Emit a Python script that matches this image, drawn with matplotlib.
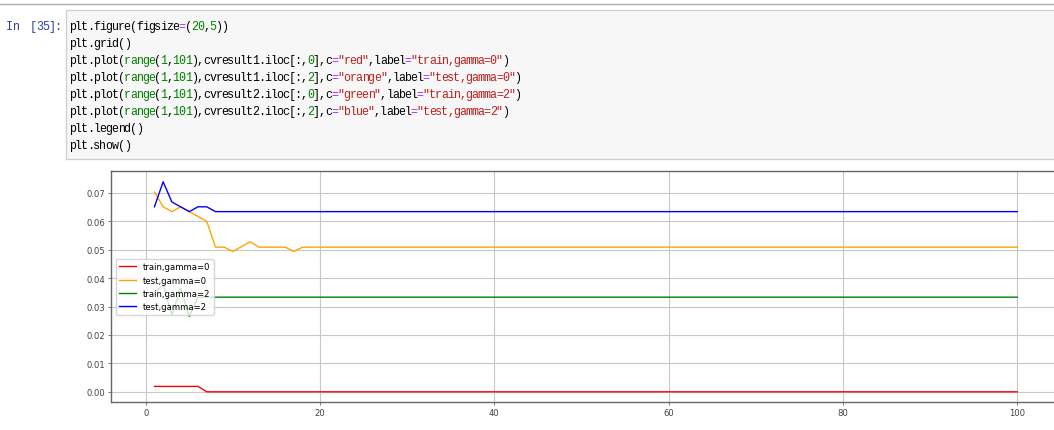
import matplotlib
matplotlib.use("Agg")
import matplotlib.pyplot as plt
from matplotlib.patches import Rectangle
from matplotlib.lines import Line2D

# --- data (xgboost cv error per boosting round) ---
rounds = list(range(1, 101))
train_gamma0 = [0.0019] * 6 + [0.0] * 94
test_gamma0 = [0.0703, 0.0651, 0.0634, 0.0651, 0.0634, 0.0617, 0.0600, 0.0509,
               0.0509, 0.0494, 0.0511, 0.0528, 0.0509, 0.0509, 0.0509, 0.0509,
               0.0494, 0.0509] + [0.0509] * 82
train_gamma2 = [0.0350, 0.0376, 0.0271, 0.0365, 0.0265, 0.0333] + [0.0333] * 94
test_gamma2 = [0.0651, 0.0739, 0.0668, 0.0651, 0.0634, 0.0651, 0.0651,
               0.0634] + [0.0634] * 92

series = [
    (train_gamma0, "red", "train,gamma=0"),
    (test_gamma0, "orange", "test,gamma=0"),
    (train_gamma2, "green", "train,gamma=2"),
    (test_gamma2, "blue", "test,gamma=2"),
]

code_lines = [
    'plt.figure(figsize=(20,5))',
    'plt.grid()',
    'plt.plot(range(1,101),cvresult1.iloc[:,0],c="red",label="train,gamma=0")',
    'plt.plot(range(1,101),cvresult1.iloc[:,2],c="orange",label="test,gamma=0")',
    'plt.plot(range(1,101),cvresult2.iloc[:,0],c="green",label="train,gamma=2")',
    'plt.plot(range(1,101),cvresult2.iloc[:,2],c="blue",label="test,gamma=2")',
    'plt.legend()',
    'plt.show()',
]

W, H = 1054, 431
fig = plt.figure(figsize=(W / 100, H / 100), dpi=100)
fig.patch.set_facecolor("white")


def fx(x):
    return x / W


def fy(y):
    return 1 - y / H


def char_colors(line):
    # tiny highlighter: strings red, numbers green, '=' purple, range green
    cols = ["black"] * len(line)
    in_str = False
    for i, ch in enumerate(line):
        if ch == '"':
            cols[i] = "#BA2121"
            in_str = not in_str
        elif in_str:
            cols[i] = "#BA2121"
        elif ch == "=":
            cols[i] = "#AA22FF"
        elif ch.isdigit():
            prev = line[i - 1] if i > 0 else ""
            if not prev.isalpha():
                cols[i] = "#008000"
    start = line.find("range")
    if start >= 0:
        for i in range(start, start + 5):
            cols[i] = "#008000"
    return cols


pitch = 6.1
code_font = dict(family="Liberation Mono", fontsize=8.4, va="center", ha="center")


def draw_chars(text, x0, y, cols):
    # one glyph per cell so the screenshot's character pitch is kept exactly
    for i, ch in enumerate(text):
        if ch == " ":
            continue
        fig.text(fx(x0 + (i + 0.5) * pitch), fy(y), ch, color=cols[i], **code_font)


# notebook cell chrome
fig.add_artist(Line2D([0, 1], [fy(5), fy(5)], color="#ababab", lw=1.0))
fig.add_artist(Rectangle((fx(65.7), fy(160.3)), fx(W + 10) - fx(65.7), fy(11.3) - fy(160.3),
                         facecolor="#f7f7f7", edgecolor="#cfcfcf", lw=0.9))

prompt = "In  [35]:"
draw_chars(prompt, 6.0, 26.7, ["#303F9F"] * len(prompt))

for n, line in enumerate(code_lines):
    draw_chars(line, 69.3, 26.7 + n * 17.0, char_colors(line))

# the chart itself (figsize=(20,5) output, shown scaled down)
ax = fig.add_axes([fx(111.3), fy(403.3), (1060.4 - 111.3) / W, (403.3 - 172.3) / H])
ax.grid(color="#c8c8c8", lw=0.8)
ax.set_axisbelow(True)
for vals, col, lab in series:
    ax.plot(rounds, vals, c=col, label=lab, lw=1.0)

ax.set_xticks([0, 20, 40, 60, 80, 100])
ax.set_yticks([0.0, 0.01, 0.02, 0.03, 0.04, 0.05, 0.06, 0.07])
ax.yaxis.set_major_formatter(matplotlib.ticker.FormatStrFormatter("%.2f"))
ax.tick_params(labelsize=6.1, length=2.2, width=0.5, pad=2.2, colors="#444444")
for sp in ax.spines.values():
    sp.set_color("#666666")
    sp.set_linewidth(1.0)

ax.legend(loc="center left", fontsize=6.1, framealpha=0.8, borderaxespad=0.5)

fig.savefig("out.png", dpi=100, facecolor="white")
